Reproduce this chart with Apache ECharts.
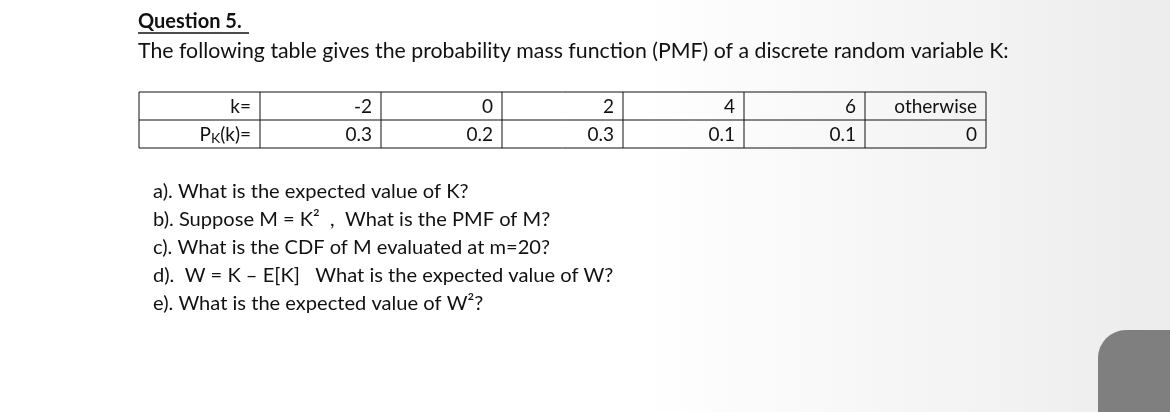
<!DOCTYPE html>
<html><head><meta charset="utf-8">
<script src="https://cdn.jsdelivr.net/npm/echarts@6/dist/echarts.min.js"></script>
<style>html,body{margin:0;padding:0;background:#fff}#c{width:1170px;height:412px}</style>
</head><body><div id="c"></div>
<script>
const title = "Question 5.";
const intro = "The following table gives the probability mass function (PMF) of a discrete random variable K:";
const kValues = ["-2", "0", "2", "4", "6", "otherwise"];
const pValues = ["0.3", "0.2", "0.3", "0.1", "0.1", "0"];
const questions = [
  "a). What is the expected value of K?",
  "b). Suppose M = K\u00b2  ,  What is the PMF of M?",
  "c). What is the CDF of M evaluated at m=20?",
  "d).  W = K \u2013 E[K]   What is the expected value of W?",
  "e). What is the expected value of W\u00b2?"
];
const F = "Lato, 'Open Sans', sans-serif";
const chart = echarts.init(document.getElementById('c'));
const g = [];
g.push({type:'rect',shape:{x:0,y:0,width:1170,height:412},style:{fill:new echarts.graphic.LinearGradient(0,0,1,0,[{offset:0,color:'#ffffff'},{offset:0.55,color:'#ffffff'},{offset:1,color:'#ececec'}])},z:0});
g.push({type:'rect',shape:{x:1098,y:330,width:100,height:120,r:28},style:{fill:'#7f7f7f'},z:1});
g.push({type:'text',x:138,y:22,style:{text:title,font:'bold 20px '+F,fill:'#111',textVerticalAlign:'middle'},z:2});
g.push({type:'line',shape:{x1:138,y1:33,x2:249,y2:33},style:{stroke:'#111',lineWidth:1.5},z:2});
g.push({type:'text',x:138,y:51,style:{text:intro,font:'21.3px '+F,fill:'#111',textVerticalAlign:'middle'},z:2});
const x0=139, cw=121, y0=92, rh=28;
const rows=[["k="].concat(kValues),["P_K(k)="].concat(pValues)];
const ncol=rows[0].length;
g.push({type:'rect',shape:{x:x0,y:y0,width:cw*ncol,height:rh*2},style:{fill:'none',stroke:'#111',lineWidth:1},z:2});
g.push({type:'line',shape:{x1:x0,y1:y0+rh,x2:x0+cw*ncol,y2:y0+rh},style:{stroke:'#111',lineWidth:1},z:2});
for(let i=1;i<ncol;i++) g.push({type:'line',shape:{x1:x0+cw*i,y1:y0,x2:x0+cw*i,y2:y0+rh*2},style:{stroke:'#111',lineWidth:1},z:2});
rows.forEach((r,ri)=>r.forEach((t,ci)=>{
  const x=x0+cw*(ci+1)-9, y=y0+rh*ri+rh/2+1;
  if(t==="P_K(k)="){
    g.push({type:'text',x:x,y:y,style:{text:'{a|P}{b|K}{a|(k)=}',rich:{a:{font:'19px '+F,fill:'#111'},b:{font:'14px '+F,fill:'#111',padding:[6,0,0,0]}},align:'right',verticalAlign:'middle'},z:2});
  } else {
    g.push({type:'text',x:x,y:y,style:{text:t,font:'19px '+F,fill:'#111',align:'right',verticalAlign:'middle'},z:2});
  }
}));
questions.forEach((q,i)=>g.push({type:'text',x:153,y:192+28*i,style:{text:q,font:'20.1px '+F,fill:'#111',textVerticalAlign:'middle'},z:2}));
chart.setOption({animation:false,graphic:{elements:g}});
</script></body></html>
